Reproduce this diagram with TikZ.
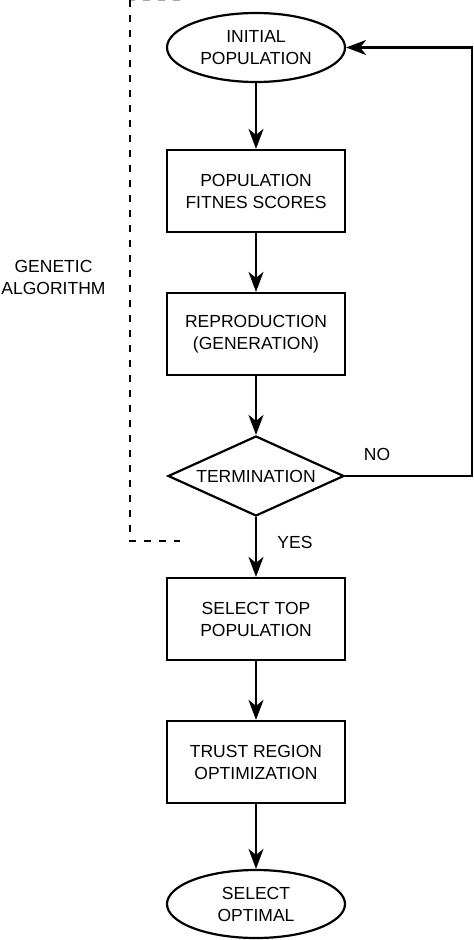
\documentclass[tikz,border=0pt]{standalone}
\usepackage{fontspec}
\setmainfont{Liberation Sans}
\usetikzlibrary{shapes.geometric,arrows.meta}
\begin{document}
\begin{tikzpicture}[x=1pt,y=-1pt,
  every node/.style={font=\fontsize{17.5}{22}\selectfont, align=center},
  proc/.style={draw, line width=2.2pt, minimum width=178pt, minimum height=82pt, inner sep=0pt},
  term/.style={draw, ellipse, line width=2.2pt, minimum width=178pt, minimum height=69pt, inner sep=0pt},
  dec/.style={draw, diamond, aspect=2.2, line width=2.2pt, minimum width=176pt, minimum height=80pt, inner sep=0pt},
  arr/.style={line width=2.2pt, -{Stealth[length=20pt,width=15pt,inset=6pt]}},
  grp/.style={line width=1.4pt, dash pattern=on 7pt off 8pt}]
\useasboundingbox (0,0) rectangle (474,940);
\fill[white] (0,0) rectangle (474,940);

\node[term] (init) at (256,47.5) {INITIAL\\POPULATION};
\node[proc] (fit) at (256,191) {POPULATION\\FITNES SCORES};
\node[proc] (rep) at (256,334) {REPRODUCTION\\(GENERATION)};
\node[dec] (term) at (256,476) {TERMINATION};
\node[proc] (sel) at (256,619) {SELECT TOP\\POPULATION};
\node[proc] (trust) at (256,762) {TRUST REGION\\OPTIMIZATION};
\node[term, minimum height=68pt] (opt) at (256,904) {SELECT\\OPTIMAL};

\draw[arr] (init) -- (fit);
\draw[arr] (fit) -- (rep);
\draw[arr] (rep) -- (term);
\draw[arr] (term) -- (sel);
\draw[arr] (sel) -- (trust);
\draw[arr] (trust) -- (opt);

\coordinate (loopx) at (472,0);
\draw[arr] (term.east) -- (term.east -| loopx) -- (loopx |- init.east) -- (init.east);

\node (no) at (377,454) {NO};
\node (yes) at (295,542) {YES};

\node (ga) at (53.5,277) {GENETIC\\ALGORITHM};

\draw[grp, gray!70] (180,0.3) -- (130,0.3);
\draw[grp] (130,0.3) -- (130,541) -- (180,541);
\end{tikzpicture}
\end{document}
